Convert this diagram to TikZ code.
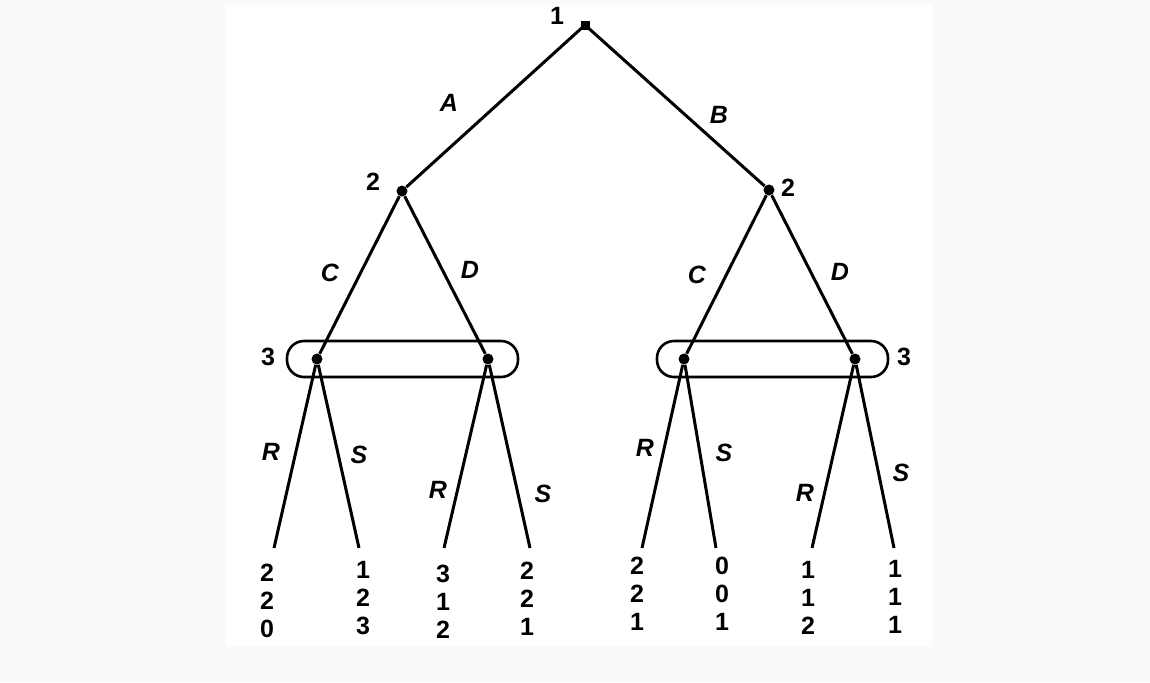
\documentclass[tikz,border=0pt]{standalone}
\usepackage{fontspec}
\setmainfont{Liberation Sans}
\begin{document}
\begin{tikzpicture}[x=0.5pt,y=-0.5pt,
  edge/.style={line width=1.5pt},
  dot/.style={circle,fill=black,inner sep=0pt,minimum size=5.5pt},
  rootdot/.style={rectangle,fill=black,inner sep=0pt,minimum size=4.5pt},
  lbl/.style={font=\fontsize{12.5}{14}\selectfont\bfseries},
  act/.style={font=\fontsize{12.5}{14}\selectfont\bfseries\itshape},
  pay/.style={align=center,font=\fontsize{12.5}{14}\selectfont\bfseries},
  infoset/.style={draw,line width=1.3pt,rounded corners=8.5pt,minimum width=115.5pt,minimum height=18pt,inner sep=0pt}]
\useasboundingbox (0,0) rectangle (1150,682);
\fill[black!2] (0,0) rectangle (1150,682);
\fill[white] (226,5) rectangle (932,646);
% information sets
\node[infoset] (set1) at (402.5,359) {};
\node[infoset] (set2) at (772.5,359) {};
% decision nodes
\node[rootdot] (n1) at (585,25) {};
\node[dot] (n2l) at (402,191) {};
\node[dot] (n2r) at (769,190) {};
\node[dot] (n3a) at (317,359) {};
\node[dot] (n3b) at (488,359) {};
\node[dot] (n3c) at (684,359) {};
\node[dot] (n3d) at (855,359) {};
% leaves
\coordinate (t1) at (274,548);
\coordinate (t2) at (359,548);
\coordinate (t3) at (444,548);
\coordinate (t4) at (530,548);
\coordinate (t5) at (642,548);
\coordinate (t6) at (716,548);
\coordinate (t7) at (812,548);
\coordinate (t8) at (894,548);
% edges
\draw[edge] (n1.center) -- (n2l);
\draw[edge] (n1.center) -- (n2r);
\draw[edge] (n2l) -- (n3a);
\draw[edge] (n2l) -- (n3b);
\draw[edge] (n2r) -- (n3c);
\draw[edge] (n2r) -- (n3d);
\draw[edge] (n3a) -- (t1);
\draw[edge] (n3a) -- (t2);
\draw[edge] (n3b) -- (t3);
\draw[edge] (n3b) -- (t4);
\draw[edge] (n3c) -- (t5);
\draw[edge] (n3c) -- (t6);
\draw[edge] (n3d) -- (t7);
\draw[edge] (n3d) -- (t8);
% player labels
\node[lbl] (p1) at (557,16) {1};
\node[lbl] (p2l) at (373,182) {2};
\node[lbl] (p2r) at (788,188) {2};
\node[lbl] (p3l) at (268,357) {3};
\node[lbl] (p3r) at (904,357) {3};
% action labels
\node[act] (aA) at (449,103) {A};
\node[act] (aB) at (719,115) {B};
\node[act] (aC1) at (330,273) {C};
\node[act] (aD1) at (470,270) {D};
\node[act] (aC2) at (697,275) {C};
\node[act] (aD2) at (840,272) {D};
\node[act] (aR1) at (271,452) {R};
\node[act] (aS1) at (359,455) {S};
\node[act] (aR2) at (438,490) {R};
\node[act] (aS2) at (543,494) {S};
\node[act] (aR3) at (645,448) {R};
\node[act] (aS3) at (724,453) {S};
\node[act] (aR4) at (805,493) {R};
\node[act] (aS4) at (901,473) {S};
% payoffs
\node[pay] (v1) at (267,601) {2\\2\\0};
\node[pay] (v2) at (363,598) {1\\2\\3};
\node[pay] (v3) at (443,602) {3\\1\\2};
\node[pay] (v4) at (527,599) {2\\2\\1};
\node[pay] (v5) at (637,594) {2\\2\\1};
\node[pay] (v6) at (722,594) {0\\0\\1};
\node[pay] (v7) at (808,598) {1\\1\\2};
\node[pay] (v8) at (895,597) {1\\1\\1};
\end{tikzpicture}
\end{document}
